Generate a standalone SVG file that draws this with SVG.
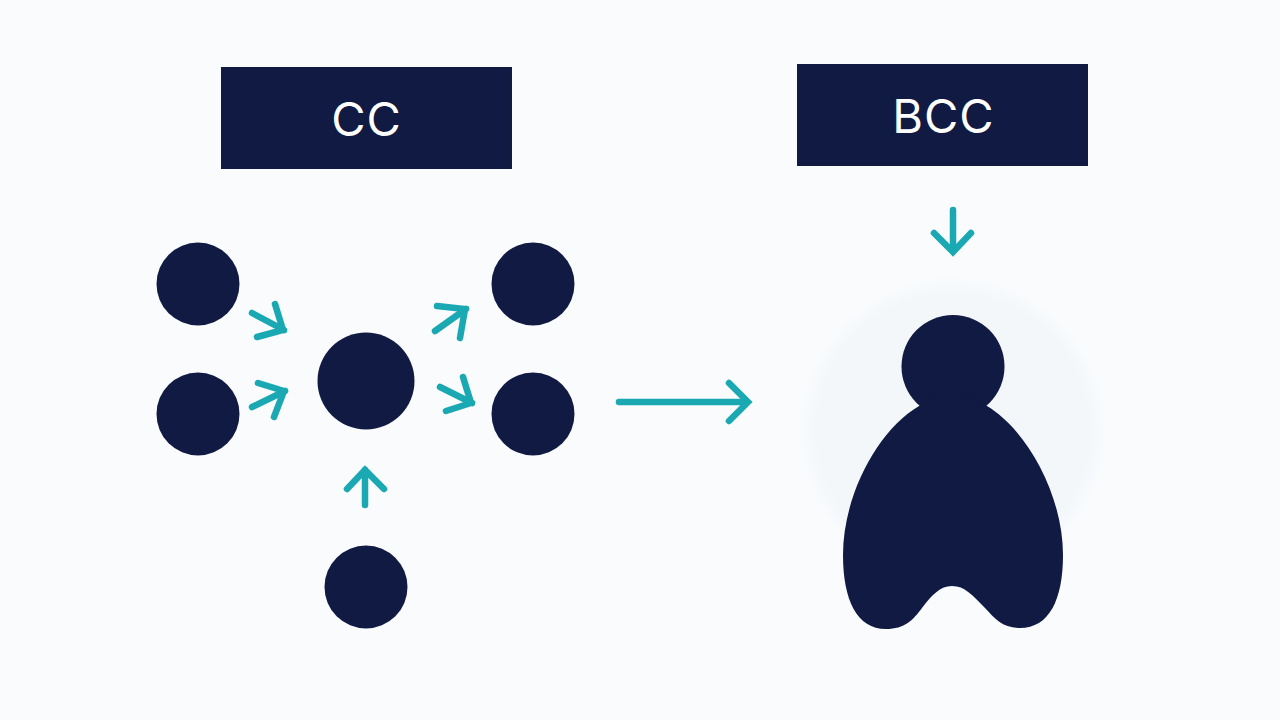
<svg xmlns="http://www.w3.org/2000/svg" width="1280" height="720" viewBox="0 0 1280 720">
<style>
.d{fill:#101A42}
.t{fill:#fff;font-family:"Inter","Noto Sans",sans-serif;font-size:47px;letter-spacing:1px;text-anchor:middle}
.a{fill:none;stroke:#1AA9B2;stroke-width:6.500;stroke-linecap:round;stroke-linejoin:miter}
</style>
<defs><radialGradient id="h"><stop offset="0.88" stop-color="#F3F7FA"/><stop offset="1" stop-color="#F9FBFD"/></radialGradient></defs>
<rect width="1280" height="720" fill="#F9FBFD"/>
<circle cx="953" cy="430" r="153" fill="url(#h)"/>
<g id="cc"><rect class="d" x="221" y="67" width="291" height="102"/><text class="t" x="366.500" y="136">CC</text></g>
<g id="bcc"><rect class="d" x="797" y="64" width="291" height="102"/><text class="t" x="943.500" y="133">BCC</text></g>
<g id="n1"><circle class="d" cx="198" cy="284" r="41.500"/></g>
<g id="n2"><circle class="d" cx="198" cy="414" r="41.500"/></g>
<g id="n3"><circle class="d" cx="366" cy="381" r="48.500"/></g>
<g id="n4"><circle class="d" cx="533" cy="284" r="41.500"/></g>
<g id="n5"><circle class="d" cx="533" cy="414" r="41.500"/></g>
<g id="n6"><circle class="d" cx="366" cy="587" r="41.500"/></g>
<g id="person"><circle class="d" cx="953" cy="366.500" r="51.500"/>
<path class="d" d="M919 406C878 430 843 495 843 555C843 600 857 629 886 629C905 629 913 620 922 608C932 595 940 586 952 586C965 586 972 595 985 608C995 619 1003 628 1020 628C1049 628 1063 600 1063 555C1063 495 1027 430 987 406L953 390Z"/></g>
<g id="connectors">
<path class="a" d="M252 313L284 330"/><path class="a" d="M275 304L283 330L257 337"/>
<path class="a" d="M252 407L285 391"/><path class="a" d="M258 383L284 391L274 417"/>
<path class="a" d="M435 331L466 309"/><path class="a" d="M437 306L465 309L460 338"/>
<path class="a" d="M440 387L472 403"/><path class="a" d="M463 377L471 403L446 411"/>
<path class="a" d="M365 505V470"/><path class="a" d="M347 489L365 470L384 489"/>
<path class="a" d="M953 210V250"/><path class="a" d="M934 233L953 252L971 233"/>
<path class="a" d="M619 402H746"/><path class="a" d="M729 383L748 402L729 421"/>
</g>
</svg>
